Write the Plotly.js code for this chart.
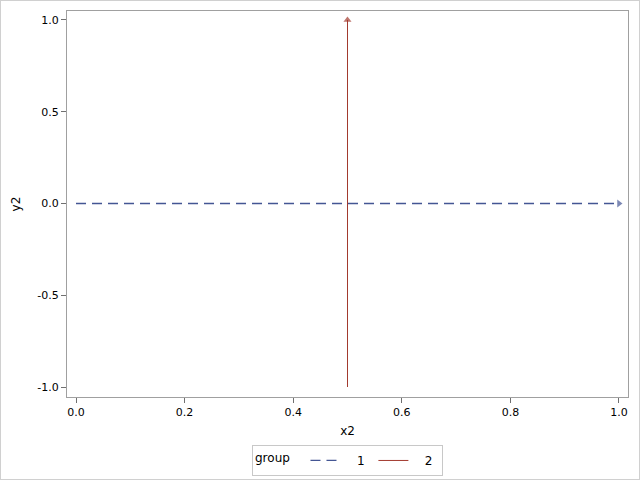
<!DOCTYPE html>
<html>
<head>
<meta charset="utf-8">
<script src="https://cdn.plot.ly/plotly-3.0.1.min.js"></script>
<style>
  body { margin: 0; }
  #chart { width: 640px; height: 480px; outline: 1px solid #d0d0d0; outline-offset: -1px; }
</style>
</head>
<body>
<div id="chart"></div>
<script>
// vectors: start point -> end point for each group
var groups = ['1', '2'];
var xStart = [0, 0.5];
var yStart = [0, -1];
var xEnd = [1, 0.5];
var yEnd = [0, 1];
var colors = ['#445694', '#A23A2E'];
var dashes = ['10px,6px', 'solid'];
var widths = [1.3, 1];

var xTicks = [0, 0.2, 0.4, 0.6, 0.8, 1];
var yTicks = [-1, -0.5, 0, 0.5, 1];

var data = [];
for (var i = 0; i < groups.length; i++) {
	data.push({
		x: [xStart[i], xEnd[i]],
		y: [yStart[i], yEnd[i]],
		type: 'scatter',
		mode: 'lines',
		name: '\u00a0\u00a0\u00a0' + groups[i] + '\u00a0',
		line: {color: colors[i], width: widths[i], dash: dashes[i]},
	});
}
// arrow heads
for (var i = 0; i < groups.length; i++) {
	data.push({
		x: [xStart[i], xEnd[i]],
		y: [yStart[i], yEnd[i]],
		type: 'scatter',
		mode: 'markers',
		showlegend: false,
		hoverinfo: 'skip',
		marker: {
			symbol: 'triangle-up',
			angleref: 'previous',
			size: [0, 7],
			color: colors[i],
			line: {width: 0},
		},
	});
}

var layout = {
	width: 640,
	height: 480,
	margin: {l: 67, r: 12, t: 11, b: 83, pad: 0},
	paper_bgcolor: 'rgba(0,0,0,0)',
	plot_bgcolor: 'white',
	font: {family: 'DejaVu Sans, sans-serif', size: 11, color: '#000'},
	xaxis: {
		title: {text: 'x2', font: {size: 12}, standoff: 8},
		range: [-0.0166, 1.0166],
		tickmode: 'array',
		tickvals: xTicks,
		ticktext: xTicks.map(function(v){ return v.toFixed(1); }),
		ticks: 'outside',
		ticklen: 5,
		tickcolor: '#707070',
		showgrid: false,
		zeroline: false,
		showline: true,
		mirror: true,
		linecolor: '#a0a0a0',
		linewidth: 1,
		automargin: false,
	},
	yaxis: {
		title: {text: 'y2', font: {size: 12}, standoff: 14},
		range: [-1.0545, 1.049],
		tickmode: 'array',
		tickvals: yTicks,
		ticktext: yTicks.map(function(v){ return v.toFixed(1); }),
		ticks: 'outside',
		ticklen: 5,
		tickcolor: '#707070',
		showgrid: false,
		zeroline: false,
		showline: true,
		mirror: true,
		linecolor: '#a0a0a0',
		linewidth: 1,
		automargin: false,
	},
	showlegend: true,
	legend: {
		orientation: 'h',
		xref: 'paper',
		x: 0.5,
		xanchor: 'center',
		yref: 'container',
		y: 0.073,
		yanchor: 'top',
		title: {text: 'group\u00a0\u00a0', font: {size: 12}, side: 'left'},
		font: {size: 12},
		bordercolor: '#c8c8c8',
		borderwidth: 1,
		itemwidth: 30,
		tracegroupgap: 0,
	},
};

var config = {responsive: false, displayModeBar: false};

Plotly.newPlot('chart', data, layout, config);
</script>
</body>
</html>
